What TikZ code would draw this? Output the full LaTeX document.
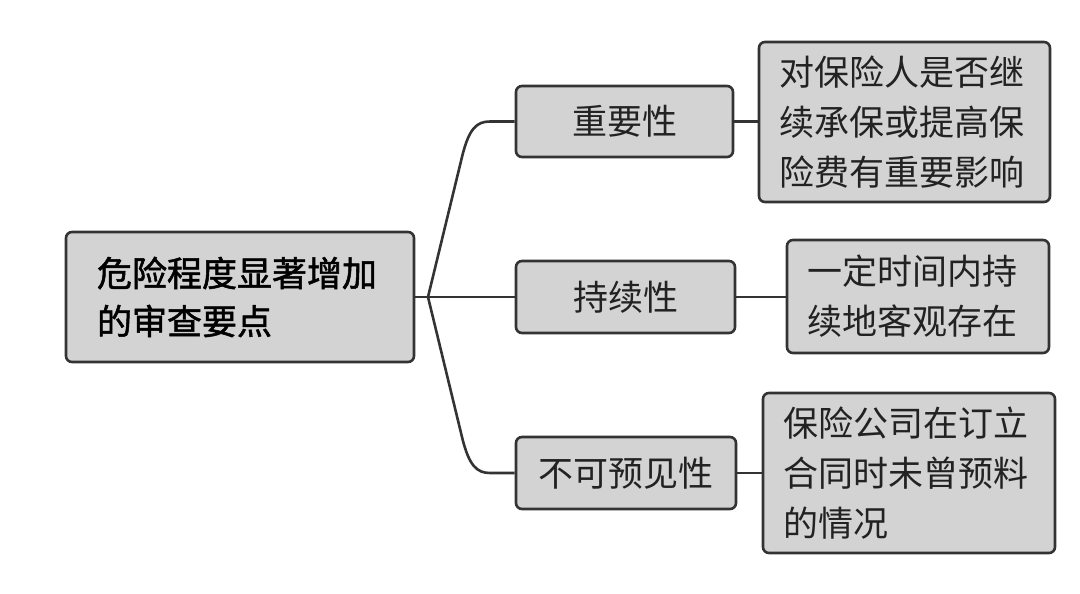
\documentclass[tikz,border=0pt]{standalone}
\usepackage{fontspec}
\newfontfamily\cjk{Noto Sans CJK SC}
\newfontfamily\cjkb[FakeBold=1.5]{Noto Sans CJK SC}
\definecolor{boxfill}{HTML}{D3D3D3}
\definecolor{edge}{HTML}{333333}
\definecolor{txt}{HTML}{222222}
\tikzset{
  box/.style={draw=edge, fill=boxfill, line width=2.6pt, rounded corners=6pt,
    inner ysep=0pt, text=txt, font=\cjk\fontsize{35}{50}\selectfont},
  link/.style={draw=edge, line width=2.6pt, line join=round}
}
\begin{document}
\begin{tikzpicture}[x=1pt,y=-1pt]
\useasboundingbox (0,0) rectangle (1080,594);
% root
\node[box, text=black, minimum width=348pt, minimum height=130pt, inner xsep=31pt,
  text width=286pt, align=left, font=\cjkb\fontsize{35}{48}\selectfont] (root) at (240,297)
  {危险程度显著增加\\的审查要点};
% middle
\node[box, minimum width=217pt, minimum height=71pt, align=center] (m1) at (624.5,121.5) {重要性};
\node[box, minimum width=219pt, minimum height=72pt, align=center] (m2) at (625.5,297) {持续性};
\node[box, minimum width=220pt, minimum height=72pt, align=center] (m3) at (626,473) {不可预见性};
% right
\node[box, minimum width=291pt, minimum height=160pt, inner xsep=20pt, text width=251pt, align=left] (r1) at (904.5,122)
  {对保险人是否继\\续承保或提高保\\险费有重要影响};
\node[box, minimum width=262pt, minimum height=113pt, inner xsep=20pt, text width=222pt, align=left] (r2) at (918,296.5)
  {一定时间内持\\续地客观存在};
\node[box, minimum width=292pt, minimum height=160pt, inner xsep=20pt, text width=252pt, align=left] (r3) at (909,473)
  {保险公司在订立\\合同时未曾预料\\的情况};
% connectors
\coordinate (fork) at (428,297);
\draw[link] (root.east) -- (fork);
\draw[link] (fork) -- (462,157) .. controls (469,128) and (477,121.5) .. (490,121.5) -- (m1.west);
\draw[link] (fork) -- (m2.west);
\draw[link] (fork) -- (462,437) .. controls (469,466) and (477,473) .. (490,473) -- (m3.west);
\draw[link] (m1.east) -- (r1.west |- m1.east);
\draw[link] (m2.east) -- (r2.west |- m2.east);
\draw[link] (m3.east) -- (r3.west |- m3.east);
\end{tikzpicture}
\end{document}
